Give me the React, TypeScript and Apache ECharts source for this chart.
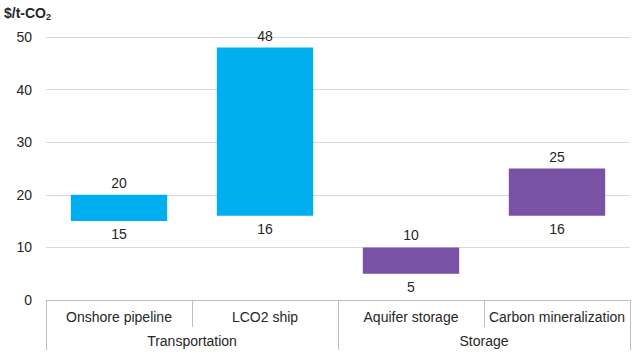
import React, { useEffect, useRef } from "react";
import * as echarts from "echarts";

const categories = ["Onshore pipeline", "LCO2 ship", "Aquifer storage", "Carbon mineralization"];
const groups = ["Transportation", "Storage"];
const lowValues = [15, 16, 5, 16];
const highValues = [20, 48, 10, 25];
const barColors = ["#00AEEF", "#00AEEF", "#7952A6", "#7952A6"];
const yTicks = { min: 0, max: 50, interval: 10 };

export default function App() {
  const ref = useRef<HTMLDivElement>(null);
  useEffect(() => {
    if (!ref.current) return;
    const chart = echarts.init(ref.current, undefined, { renderer: "svg" });
    const font = "Liberation Sans, Arial, sans-serif";
    chart.setOption({
      animation: false,
      textStyle: { fontFamily: font },
      title: {
        text: "{a|$/t-CO}{b|2}",
        left: 4,
        top: 4,
        padding: 0,
        textStyle: {
          rich: {
            a: { fontSize: 14, fontWeight: "bold", color: "#262626", fontFamily: font },
            b: { fontSize: 9, fontWeight: "bold", color: "#262626", fontFamily: font, padding: [8, 0, 0, 0] },
          },
        },
      },
      grid: { left: 46, right: 10, top: 37, bottom: 56, containLabel: false },
      xAxis: [
        {
          type: "category",
          data: categories,
          position: "bottom",
          axisLine: { show: true, lineStyle: { color: "#bfbfbf" } },
          axisTick: { show: true, length: 27, lineStyle: { color: "#bfbfbf" } },
          axisLabel: { color: "#262626", fontSize: 14, margin: 10, interval: 0, fontFamily: font },
        },
        {
          type: "category",
          data: groups,
          position: "bottom",
          offset: 26,
          axisLine: { show: false },
          axisTick: { show: true, length: 24, lineStyle: { color: "#bfbfbf" } },
          axisLabel: { color: "#262626", fontSize: 14, margin: 8, interval: 0, fontFamily: font },
        },
      ],
      yAxis: {
        type: "value",
        min: yTicks.min,
        max: yTicks.max,
        interval: yTicks.interval,
        axisLine: { show: false },
        axisTick: { show: false },
        splitLine: { lineStyle: { color: "#d9d9d9" } },
        axisLabel: { color: "#262626", fontSize: 14, margin: 14, fontFamily: font },
      },
      series: [
        {
          type: "bar",
          stack: "range",
          xAxisIndex: 0,
          barWidth: "66%",
          data: lowValues,
          itemStyle: { color: "transparent" },
          label: {
            show: true,
            position: "insideTop",
            distance: 6,
            color: "#262626",
            fontSize: 14,
            fontFamily: font,
            formatter: (p: any) => String(lowValues[p.dataIndex]),
          },
          silent: true,
        },
        {
          type: "bar",
          stack: "range",
          xAxisIndex: 0,
          barWidth: "66%",
          data: highValues.map((h, i) => ({
            value: h - lowValues[i],
            itemStyle: { color: barColors[i] },
          })),
          label: {
            show: true,
            position: "top",
            distance: 5,
            color: "#262626",
            fontSize: 14,
            fontFamily: font,
            formatter: (p: any) => String(highValues[p.dataIndex]),
          },
        },
      ],
    });
    return () => chart.dispose();
  }, []);
  return <div ref={ref} style={{ width: 640, height: 356, position: "absolute", left: 0, top: 0 }} />;
}
